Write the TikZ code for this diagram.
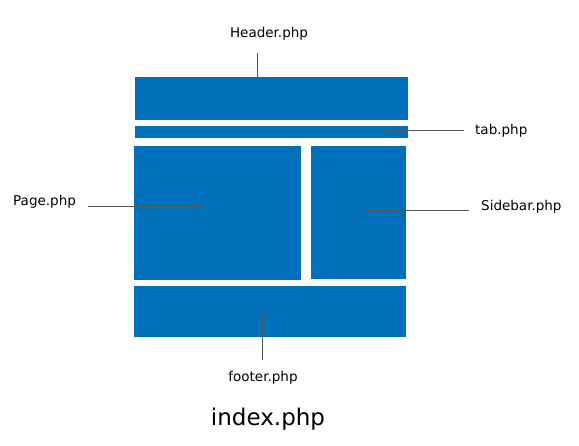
\documentclass[tikz,border=0pt]{standalone}
\usepackage{fontspec}
\setmainfont{DejaVu Sans}
\usepackage{xcolor}
\usepackage{tikz}
\definecolor{blockblue}{RGB}{0,112,186}
\definecolor{pingray}{RGB}{85,85,85}

\begin{document}
\begin{tikzpicture}[x=1pt,y=-1pt]
\tikzset{pin/.style={draw=pingray,line width=0.8pt}}
\tikzstyle{block} =[rectangle, fill = blockblue,inner sep=0pt,outer sep=0pt]
\tikzstyle{tag} =[inner sep=0pt,anchor=base,font=\fontsize{13.5}{16}\selectfont]
\useasboundingbox (0,0) rectangle (579,446);
\node[block,minimum width=273pt,minimum height=43pt](header) at (271.5,98.5){};
\node[block,minimum width=273pt,minimum height=12pt](tab) at (271.5,132){};
\node[block,minimum width=167pt,minimum height=134pt](page) at (217.5,213){};
\node[block,minimum width=95pt,minimum height=133pt](sidebar) at (358.5,212.5){};
\node[block,minimum width=272pt,minimum height=51pt](footer) at (270,311.5){};

\node[tag](headerlbl) at (269,38){Header.php};
\node[tag,anchor=base west](tablbl) at (475,134.5){tab.php};
\node[tag,anchor=base west](pagelbl) at (13,206){Page.php};
\node[tag,anchor=base west](sidebarlbl) at (481,210.5){Sidebar.php};
\node[tag](footerlbl) at (263,381.5){footer.php};
\node[tag,font=\fontsize{23}{27}\selectfont](indexlbl) at (268,425.5){index.php};

\coordinate (h1) at (257,93); \coordinate (h2) at (257,53);
\coordinate (t1) at (386,130.5); \coordinate (t2) at (464,130.5);
\coordinate (p1) at (88,206.5); \coordinate (p2) at (204,206.5);
\coordinate (s1) at (366,210); \coordinate (s2) at (469,210);
\coordinate (f1) at (262.5,312); \coordinate (f2) at (262.5,360);

\draw [pin] (h1) to (h2);
\draw [pin] (t1) to (t2);
\draw [pin] (p1) to (p2);
\draw [pin] (s1) to (s2);
\draw [pin] (f1) to (f2);
\end{tikzpicture}
\end{document}
